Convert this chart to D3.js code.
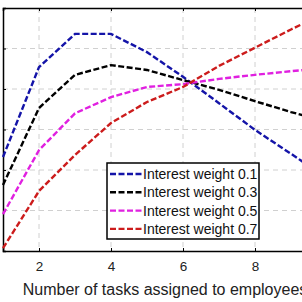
<!DOCTYPE html>
<html>
<head>
<meta charset="utf-8">
<script src="https://cdn.jsdelivr.net/npm/d3@7"></script>
<style>
body { margin: 0; background: #fff; }
svg { display: block; font-family: "Liberation Sans", Arial, sans-serif; }
</style>
</head>
<body>
<div class="container"></div>
<script>
// values (y in arbitrary units, labels are cut off)
const tasks = [1, 2, 3, 4, 5, 6, 7, 8, 9, 10]
const w01 = [2.32, 4.54, 5.36, 5.36, 4.91, 4.30, 3.65, 2.99, 2.40, 1.80]
const w03 = [1.63, 3.53, 4.35, 4.59, 4.47, 4.22, 3.98, 3.70, 3.43, 3.20]
const w05 = [0.91, 2.49, 3.40, 3.80, 4.05, 4.12, 4.25, 4.35, 4.44, 4.52]
const w07 = [0.07, 1.48, 2.37, 3.16, 3.68, 4.05, 4.57, 5.02, 5.47, 5.90]
const names = ["Interest weight 0.1", "Interest weight 0.3", "Interest weight 0.5", "Interest weight 0.7"]
const colors = ["#1414a8", "#000000", "#e020e0", "#cc1c1c"]
const xTicks = [2, 4, 6, 8]
const yTicks = [1, 2, 3, 4, 5]

const w = 302
const h = 302
const padL = 3, padR = 327, padT = 8, padB = 251

const series = [w01, w03, w05, w07]

const svg = d3.select(".container")
              .append("svg")
              .attr("width", w)
              .attr("height", h)

const xScale = d3.scaleLinear().domain([1, 10]).range([padL, padR])
const yScale = d3.scaleLinear().domain([0, 6]).range([padB, padT])

// grid
svg.append("g")
   .selectAll("line")
   .data(xTicks)
   .enter()
   .append("line")
   .attr("x1", d => xScale(d)).attr("x2", d => xScale(d))
   .attr("y1", padT).attr("y2", padB)
   .attr("stroke", "#d0d0d0")
   .attr("stroke-dasharray", "5,4")

svg.append("g")
   .selectAll("line")
   .data(yTicks)
   .enter()
   .append("line")
   .attr("x1", padL).attr("x2", padR)
   .attr("y1", d => yScale(d)).attr("y2", d => yScale(d))
   .attr("stroke", "#d0d0d0")
   .attr("stroke-dasharray", "5,4")

// axes
const xAxis = svg.append("g")
   .attr("transform", "translate(0," + padB + ")")
   .call(d3.axisBottom(xScale).tickValues(xTicks).tickSize(-3).tickPadding(10).tickFormat(d3.format("d")))
xAxis.selectAll("text").attr("font-size", 13.5).attr("fill", "#222")

svg.append("g")
   .attr("transform", "translate(0," + padT + ")")
   .call(d3.axisTop(xScale).tickValues(xTicks).tickSize(-3).tickFormat(""))

svg.append("g")
   .attr("transform", "translate(" + padL + ",0)")
   .call(d3.axisLeft(yScale).tickValues(yTicks).tickSize(-3).tickFormat(""))

svg.selectAll(".domain").attr("stroke", "#000").attr("stroke-width", 1.5)
svg.selectAll(".tick line").attr("stroke", "#000")

// lines
const line = d3.line()
               .x((d, i) => xScale(tasks[i]))
               .y(d => yScale(d))

svg.selectAll(".series")
   .data(series)
   .enter()
   .append("path")
   .attr("class", "series")
   .attr("d", line)
   .attr("fill", "none")
   .attr("stroke", (d, i) => colors[i])
   .attr("stroke-width", 2.4)
   .attr("stroke-dasharray", "6,2.5")

// legend
const lg = svg.append("g").attr("transform", "translate(107,163)")
lg.append("rect")
  .attr("width", 152).attr("height", 76)
  .attr("fill", "#fff").attr("stroke", "#000").attr("stroke-width", 1.5)

const rows = lg.selectAll(".row")
  .data(names)
  .enter()
  .append("g")
  .attr("transform", (d, i) => "translate(0," + (11 + i * 18.3) + ")")
rows.append("line")
  .attr("x1", 3).attr("x2", 35)
  .attr("stroke", (d, i) => colors[i])
  .attr("stroke-width", 2.4)
  .attr("stroke-dasharray", "6,2.5")
rows.append("text")
  .attr("x", 36).attr("y", 5)
  .attr("font-size", 14)
  .attr("fill", "#111")
  .text(d => d)

svg.append("text")
   .attr("x", (padL + padR) / 2)
   .attr("y", 295)
   .attr("text-anchor", "middle")
   .attr("font-size", 16)
   .attr("fill", "#222")
   .text("Number of tasks assigned to employees")
</script>
</body>
</html>
